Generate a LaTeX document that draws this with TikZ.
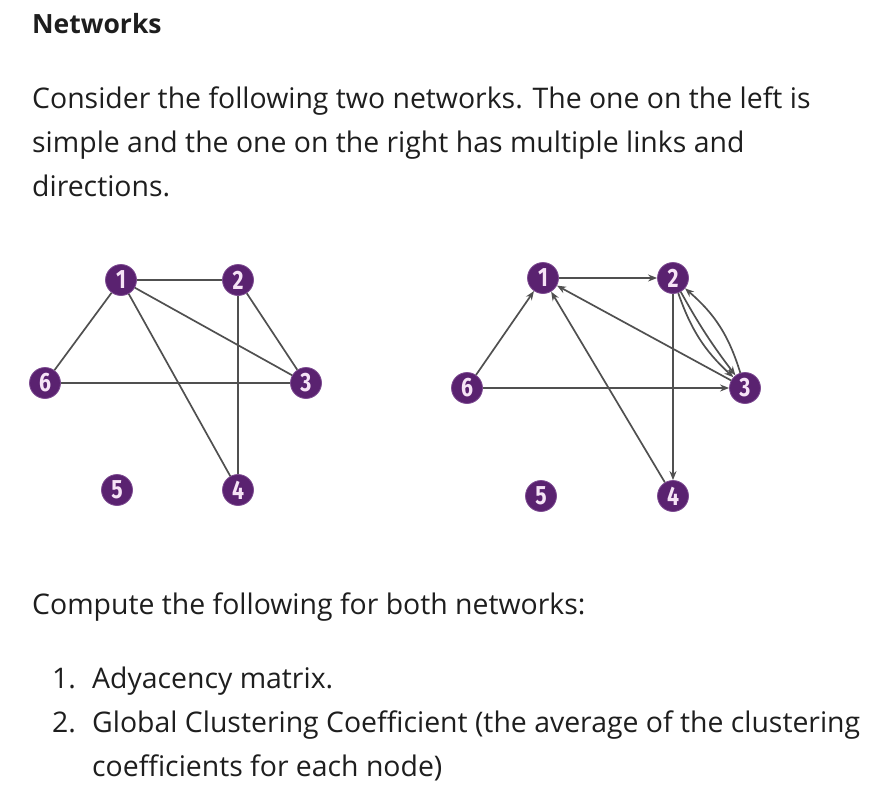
\documentclass[tikz,border=0pt]{standalone}
\usepackage{fontspec}
\setmainfont[Ligatures=NoCommon]{Open Sans}
\newfontfamily\numfont[FakeStretch=0.8]{Fira Sans}
\usetikzlibrary{arrows.meta}
\definecolor{nodepurple}{HTML}{5A2270}
\definecolor{nodering}{HTML}{7E4C92}
\definecolor{numcol}{HTML}{F6E3F6}
\definecolor{edgegray}{HTML}{505050}
\definecolor{txt}{HTML}{1E1E1E}
\tikzset{
  vert/.style={circle, fill=nodepurple, draw=nodering, line width=0.8pt, minimum size=31pt, inner sep=0pt,
    text=numcol, font=\numfont\bfseries\fontsize{26.5}{26.5}\selectfont},
  edge/.style={draw=edgegray, line width=1.7pt},
  arr/.style={edge, -{Stealth[length=9pt,width=7pt]}},
  body/.style={anchor=base west, inner sep=0pt, text=txt, font=\fontsize{28.4}{28.4}\selectfont},
  head/.style={anchor=base west, inner sep=0pt, text=txt, font=\bfseries\fontsize{26.5}{26.5}\selectfont},
}
\begin{document}
\begin{tikzpicture}[x=1pt,y=-1pt]
\useasboundingbox (0,0) rectangle (889,790);
% text
\node[head] (t0) at (32,33) {Networks};
\node[body] (t1) at (32,108) {Consider the following two networks. The one on the left is};
\node[body] (t2) at (32,152) {simple and the one on the right has multiple links and};
\node[body] (t3) at (32,196) {directions.};
\node[body] (t4) at (32,614) {Compute the following for both networks:};
\node[body] (n1) at (52,688) {1.};
\node[body] (t5) at (92,688) {Adyacency matrix.};
\node[body] (n2) at (52,732) {2.};
\node[body] (t6) at (92,732) {Global Clustering Coefficient (the average of the clustering};
\node[body] (t7) at (92,776) {coefficients for each node)};
% left network
\node[vert] (a1) at (121,280) {1};
\node[vert] (a2) at (238,280) {2};
\node[vert] (a3) at (306,383) {3};
\node[vert] (a6) at (45,383) {6};
\node[vert] (a5) at (117,490) {5};
\node[vert] (a4) at (238,490) {4};
\draw[edge] (a1) -- (a2);
\draw[edge] (a1) -- (a6);
\draw[edge] (a1) -- (a3);
\draw[edge] (a1) -- (a4);
\draw[edge] (a2) -- (a3);
\draw[edge] (a2) -- (a4);
\draw[edge] (a6) -- (a3);
% right network
\node[vert] (b1) at (543,278) {1};
\node[vert] (b2) at (673,278) {2};
\node[vert] (b3) at (745,388) {3};
\node[vert] (b6) at (467,388) {6};
\node[vert] (b5) at (541,496) {5};
\node[vert] (b4) at (673,496) {4};
\draw[arr] (b1) -- (b2);
\draw[arr] (b6) -- (b1);
\draw[arr] (b4) -- (b1);
\draw[arr] (b3) -- (b1);
\draw[arr] (b6) -- (b3);
\draw[arr] (b2) -- (b4);
\draw[arr] (b2) to[bend right=4] (b3);
\draw[arr] (b2) to[bend right=14] (b3);
\draw[arr] (b3) to[bend right=16] (b2);
\end{tikzpicture}
\end{document}
